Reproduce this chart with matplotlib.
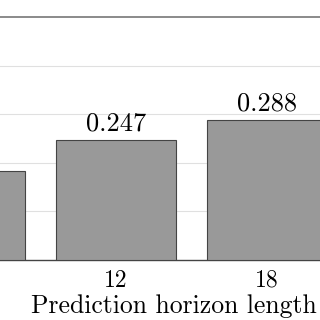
import numpy as np
import matplotlib
matplotlib.use('Agg')
from matplotlib import pyplot as plt

# Data read from the (cropped) reference
horizons = ['6', '12', '18']
scores = [0.183, 0.247, 0.288]
value_labels = ['0.183', '0.247', '0.288']

plt.rcParams['font.family'] = 'serif'
plt.rcParams['font.serif'] = ['cmr10']
plt.rcParams['mathtext.fontset'] = 'cm'
plt.rcParams['axes.formatter.use_mathtext'] = True

fig = plt.figure(figsize=(3.2, 3.2), dpi=100)
ax = fig.add_axes([0.0, 0.1875, 1.0, 0.759])

x = np.arange(len(horizons))
bars = ax.bar(x, scores, width=0.8, color='#999999', edgecolor='#444444', linewidth=0.8, zorder=3)

for b, lab in zip(bars, value_labels):
    ax.annotate(lab, (b.get_x() + b.get_width() / 2, b.get_height()),
                xytext=(0, 3), textcoords='offset points',
                ha='center', va='bottom', fontsize=19)

ax.set_xticks(x)
ax.set_xticklabels(horizons, fontsize=17)
ax.set_yticks([0.1, 0.2, 0.3, 0.4])
# limits after the ticks, so the view shows only the cropped window
ax.set_xlim(0.232, 2.351)
ax.set_ylim(0, 0.5)
ax.yaxis.grid(True, color='#e0e0e0', linewidth=0.8, zorder=0)
ax.tick_params(axis='y', left=False, labelleft=False)
ax.tick_params(axis='x', direction='in', length=4, color='#555555', pad=7)
ax.set_xlabel('Prediction horizon length', fontsize=18.5, labelpad=2)
ax.xaxis.label.set_x(0.544)

for s in ['left', 'right']:
    ax.spines[s].set_visible(False)
ax.spines['top'].set_color('#777777')
ax.spines['top'].set_linewidth(1.2)
ax.spines['bottom'].set_color('#444444')
ax.spines['bottom'].set_linewidth(1.0)

plt.savefig('out.png', dpi=100)
